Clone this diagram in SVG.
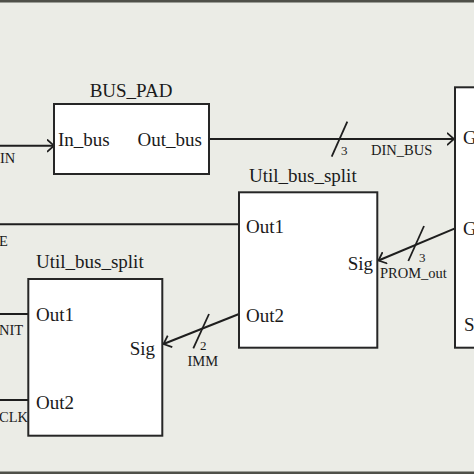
<svg xmlns="http://www.w3.org/2000/svg" width="474" height="474" viewBox="0 0 474 474">
<defs>
<style>
.box{fill:#ffffff;stroke:#262626;stroke-width:2}
.ln{fill:none;stroke:#1e1e1e;stroke-width:2}
.sl{fill:none;stroke:#1e1e1e;stroke-width:1.8}
.big{font-family:"Liberation Serif","Times New Roman",serif;font-size:19px;fill:#1a1a1a}
.ttl{font-family:"Liberation Serif","Times New Roman",serif;font-size:19px;fill:#1a1a1a}
.sm{font-family:"Liberation Serif","Times New Roman",serif;font-size:14.5px;fill:#1a1a1a}
.num{font-family:"Liberation Serif","Times New Roman",serif;font-size:13px;fill:#1a1a1a}
</style>
<marker id="arr" markerUnits="userSpaceOnUse" viewBox="0 0 8 14" refX="7.5" refY="7" markerWidth="8" markerHeight="14" orient="auto">
<path d="M0.5,0.8 L7.5,7 L0.5,13.2" fill="none" stroke="#1e1e1e" stroke-width="1.8"/>
</marker>
</defs>
<rect x="0" y="0" width="474" height="474" fill="#ebece6"/>
<rect x="0" y="0" width="474" height="2.5" fill="#4f5049"/>
<rect x="0" y="471.5" width="474" height="2.5" fill="#4f5049"/>

<g id="connectors">
<path class="ln" d="M0,145.7 H54" marker-end="url(#arr)"/>
<path class="ln" d="M209,139 H454" marker-end="url(#arr)"/>
<path class="ln" d="M455,228.3 L378.5,260.5" marker-end="url(#arr)"/>
<path class="ln" d="M239,314 L163.5,344" marker-end="url(#arr)"/>
<path class="ln" d="M0,224.3 H239"/>
<path class="ln" d="M0,314 H28.3"/>
<path class="ln" d="M0,400 H28.3"/>
<path class="sl" d="M331.7,156.7 L347.3,121.7"/>
<path class="sl" d="M408.3,261 L424,226"/>
<path class="sl" d="M193.3,348.3 L209,314"/>
<text class="num" x="341" y="155">3</text>
<text class="sm" x="371" y="155">DIN_BUS</text>
<text class="num" x="419" y="261.5">3</text>
<text class="sm" x="380" y="278.3">PROM_out</text>
<text class="num" x="200" y="350">2</text>
<text class="sm" x="187.5" y="365.7">IMM</text>
<text class="sm" x="0" y="163">IN</text>
<text class="sm" x="-1" y="246">E</text>
<text class="sm" x="-1" y="335">NIT</text>
<text class="sm" x="-1" y="421.7">CLK</text>
</g>

<g id="bus_pad">
<rect class="box" x="54" y="104" width="155" height="70"/>
<text class="ttl" x="131" y="97" text-anchor="middle">BUS_PAD</text>
<text class="big" x="58" y="146">In_bus</text>
<text class="big" x="202" y="146" text-anchor="end">Out_bus</text>
</g>

<g id="util_bus_split_1">
<rect class="box" x="239" y="192.3" width="138.3" height="155.4"/>
<text class="ttl" x="249" y="181.7">Util_bus_split</text>
<text class="big" x="246" y="233">Out1</text>
<text class="big" x="246" y="321.7">Out2</text>
<text class="big" x="373" y="270" text-anchor="end">Sig</text>
</g>

<g id="util_bus_split_2">
<rect class="box" x="28.3" y="279" width="134" height="156.7"/>
<text class="ttl" x="36" y="268.3">Util_bus_split</text>
<text class="big" x="36" y="320.7">Out1</text>
<text class="big" x="36" y="409.3">Out2</text>
<text class="big" x="155" y="355" text-anchor="end">Sig</text>
</g>

<g id="right_block">
<rect class="box" x="455" y="87.3" width="40" height="260.4"/>
<text class="big" x="463" y="144">G</text>
<text class="big" x="463" y="235">G</text>
<text class="big" x="464" y="331">ST</text>
</g>
</svg>
